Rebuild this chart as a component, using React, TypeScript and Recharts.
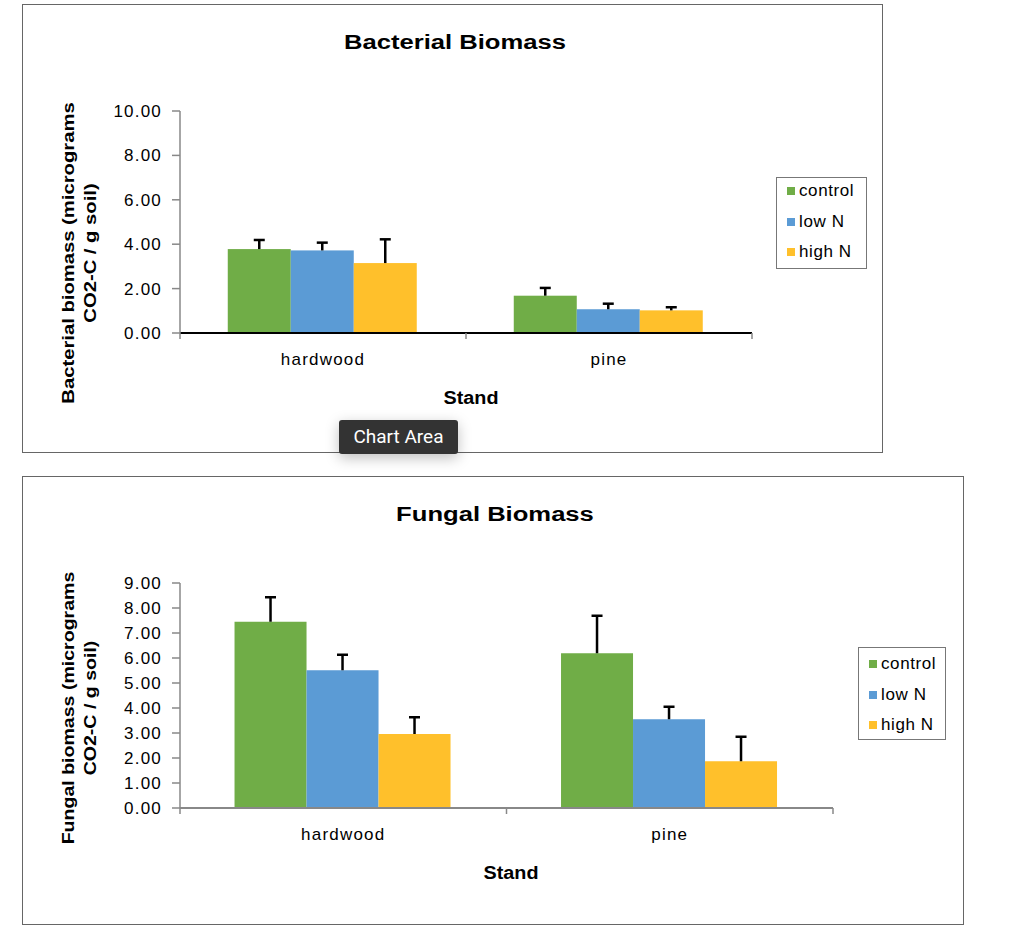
import React from "react";
import { Bar, BarChart, XAxis, YAxis } from "recharts";

// values
const stands = ["hardwood", "pine"];

const bacterialControl = [3.78, 1.68];
const bacterialControlErr = [0.41, 0.35];
const bacterialLowN = [3.72, 1.07];
const bacterialLowNErr = [0.35, 0.25];
const bacterialHighN = [3.15, 1.02];
const bacterialHighNErr = [1.07, 0.14];
const bacterialTicks = [0, 2, 4, 6, 8, 10];

const fungalControl = [7.45, 6.19];
const fungalControlErr = [0.98, 1.5];
const fungalLowN = [5.51, 3.55];
const fungalLowNErr = [0.62, 0.5];
const fungalHighN = [2.96, 1.87];
const fungalHighNErr = [0.67, 0.98];
const fungalTicks = [0, 1, 2, 3, 4, 5, 6, 7, 8, 9];

const seriesNames = ["control", "low N", "high N"];
const COLORS = ["#70AD47", "#5B9BD5", "#FFC02B"];
const FONT = "'Liberation Sans', Arial, Helvetica, sans-serif";

const bacterialRows = stands.map((s, i) => ({
  stand: s,
  control: bacterialControl[i],
  controlErr: bacterialControlErr[i],
  lowN: bacterialLowN[i],
  lowNErr: bacterialLowNErr[i],
  highN: bacterialHighN[i],
  highNErr: bacterialHighNErr[i],
}));

const fungalRows = stands.map((s, i) => ({
  stand: s,
  control: fungalControl[i],
  controlErr: fungalControlErr[i],
  lowN: fungalLowN[i],
  lowNErr: fungalLowNErr[i],
  highN: fungalHighN[i],
  highNErr: fungalHighNErr[i],
}));

const KEYS = ["control", "lowN", "highN"];

// bar + one-sided (upper) error whisker, scaled from the bar's own height
const barWithErr = (key: string) => (props: any) => {
  const { x, y, width, height, fill, payload } = props;
  const v = payload[key];
  const e = payload[key + "Err"];
  const per = v ? height / v : 0;
  const cx = x + width / 2;
  const top = y - e * per;
  return (
    <g>
      <rect x={x} y={y} width={width} height={height} fill={fill} />
      <line x1={cx} y1={y} x2={cx} y2={top} stroke="#000" strokeWidth={2.5} />
      <line x1={cx - 5.5} y1={top} x2={cx + 5.5} y2={top} stroke="#000" strokeWidth={2.5} />
    </g>
  );
};

// category label plus Excel-style tick marks between categories
const standTick = (band: number) => (p: any) => {
  const last = p.index === stands.length - 1;
  const l = p.x - band / 2;
  const r = p.x + band / 2;
  return (
    <g>
      <line x1={l} x2={l} y1={p.y} y2={p.y + 6} stroke="#888" strokeWidth={1.5} />
      {last && <line x1={r} x2={r} y1={p.y} y2={p.y + 6} stroke="#888" strokeWidth={1.5} />}
      <text x={p.x} y={p.y + 32} textAnchor="middle" fill="#000" fontSize={17} letterSpacing={1.2} fontFamily={FONT}>
        {p.payload.value}
      </text>
    </g>
  );
};

function Legend({ left, top, w, h, first }: { left: number; top: number; w: number; h: number; first: number }) {
  return (
    <div
      style={{
        position: "absolute", left, top, width: w, height: h, boxSizing: "border-box",
        border: "1px solid #777", background: "#fff", paddingLeft: 10,
      }}
    >
      <div style={{ marginTop: first - 16 }}>
        {seriesNames.map((n, i) => (
          <div key={n} style={{ height: 30.5, display: "flex", alignItems: "center", fontSize: 17, letterSpacing: 0.6 }}>
            <span style={{ width: 8, height: 8, background: COLORS[i], marginRight: 4, display: "inline-block" }} />
            {n}
          </div>
        ))}
      </div>
    </div>
  );
}

function Panel(props: {
  left: number; top: number; width: number; height: number; plotH: number;
  title: string; titleX: number; standX: number; standY: number;
  ylab: string; ylabY: number; ylabScale: number;
  rows: any[]; ticks: number[]; max: number; axisColor: string;
  legend: { left: number; top: number; w: number; h: number; first: number };
}) {
  const { left, top, width, height, rows, ticks, max, axisColor, plotH } = props;
  const tick = { fill: "#000", fontSize: 17, letterSpacing: 1.2, fontFamily: FONT };
  const m = { top: 107, right: 131, bottom: height - 107 - plotH - 60, left: 58 };
  const plotW = width - m.left - 100 - m.right;
  return (
    <>
      <div
        style={{
          position: "absolute", left, top, width, height, boxSizing: "border-box",
          border: "1px solid #666", background: "#fff",
        }}
      />
      <div style={{ position: "absolute", left, top, width, height }}>
        <BarChart
          width={width}
          height={height}
          data={rows}
          margin={m}
          barCategoryGap="16.7%"
          barGap={0}
          style={{ fontFamily: FONT }}
        >
          <XAxis
            dataKey="stand"
            height={60}
            interval={0}
            tick={standTick(plotW / stands.length)}
            tickSize={0}
            tickMargin={0}
            tickLine={false}
            axisLine={{ stroke: axisColor, strokeWidth: 2 }}
          />
          <YAxis
            width={100}
            domain={[0, max]}
            ticks={ticks}
            interval={0}
            tickFormatter={(v: number) => v.toFixed(2)}
            tick={tick}
            tickSize={8}
            tickMargin={10}
            axisLine={{ stroke: "#888", strokeWidth: 1.5 }}
            tickLine={{ stroke: "#888", strokeWidth: 1.5 }}
          />
          {KEYS.map((k, i) => (
            <Bar
              key={k}
              dataKey={k}
              name={seriesNames[i]}
              fill={COLORS[i]}
              shape={barWithErr(k)}
              isAnimationActive={false}
            />
          ))}
        </BarChart>
      </div>
      <div
        style={{
          position: "absolute", left: props.titleX - 200, top: top + 25, width: 400, textAlign: "center",
          fontFamily: FONT, fontWeight: "bold", fontSize: 20, lineHeight: "26px", transform: "scaleX(1.28)",
        }}
      >
        {props.title}
      </div>
      <div
        style={{
          position: "absolute", left: props.standX - 100, top: props.standY - 12, width: 200, textAlign: "center",
          fontFamily: FONT, fontWeight: "bold", fontSize: 18, lineHeight: "24px", transform: "scaleX(1.1)",
        }}
      >
        Stand
      </div>
      <div
        style={{
          position: "absolute", left: 80 - 200, top: props.ylabY - 22, width: 400, height: 44, textAlign: "center",
          fontFamily: FONT, fontWeight: "bold", fontSize: 17, lineHeight: "22px",
          transform: `rotate(-90deg) scaleX(${props.ylabScale})`,
        }}
      >
        {props.ylab}
        <br />
        CO2-C / g soil)
      </div>
      <Legend {...props.legend} />
    </>
  );
}

export default function App() {
  return (
    <div style={{ position: "absolute", left: 0, top: 0, width: 1024, height: 951, background: "#fff", fontFamily: FONT, overflow: "hidden" }}>
      <Panel
        left={22} top={4} width={861} height={449} plotH={222}
        title="Bacterial Biomass" titleX={455} standX={471} standY={398}
        ylab="Bacterial biomass (micrograms" ylabY={253} ylabScale={1.19}
        rows={bacterialRows} ticks={bacterialTicks} max={10} axisColor="#000"
        legend={{ left: 776, top: 177, w: 91, h: 92, first: 14 }}
      />
      <Panel
        left={22} top={476} width={942} height={449} plotH={225}
        title="Fungal Biomass" titleX={495} standX={511} standY={873}
        ylab="Fungal biomass (micrograms" ylabY={708} ylabScale={1.15}
        rows={fungalRows} ticks={fungalTicks} max={9} axisColor="#888"
        legend={{ left: 858, top: 647, w: 88, h: 93, first: 17 }}
      />
      <div
        style={{
          position: "absolute", left: 339, top: 420, width: 119, height: 34, background: "#333",
          borderRadius: 3, color: "#fff", fontSize: 19, lineHeight: "34px", textAlign: "center",
          boxShadow: "0 4px 14px rgba(0,0,0,0.25)", fontFamily: "Roboto, 'Liberation Sans', sans-serif",
        }}
      >
        Chart Area
      </div>
    </div>
  );
}
